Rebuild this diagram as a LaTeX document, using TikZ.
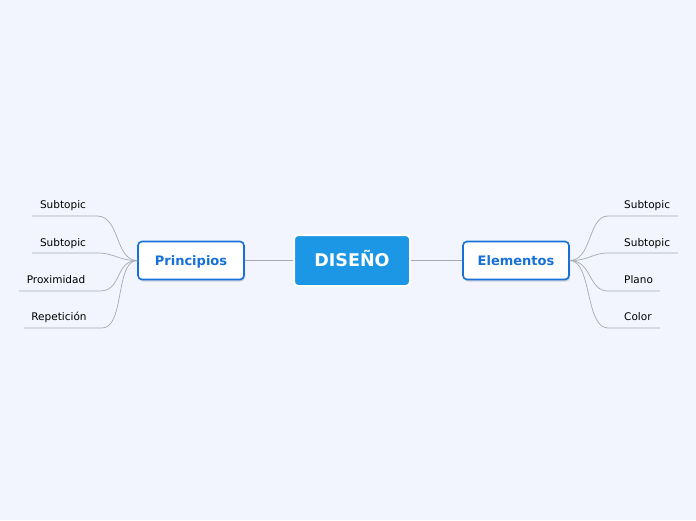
\documentclass[tikz,border=0pt]{standalone}
\usepackage{fontspec}
\setmainfont{DejaVu Sans}
\usetikzlibrary{shadows}
\definecolor{fondo}{RGB}{242,245,253}
\definecolor{azul}{RGB}{27,151,229}
\definecolor{azulborde}{RGB}{22,112,216}
\definecolor{gris}{RGB}{165,169,178}
\tikzset{
  centro/.style={draw=white,line width=2pt,fill=azul,rounded corners=4pt,minimum width=116pt,minimum height=51pt,text=white,text height=12.6pt,text depth=0pt,font=\fontsize{17.5}{20}\selectfont\bfseries},
  rama/.style={draw=azulborde,line width=1.6pt,fill=white,rounded corners=4pt,minimum width=106pt,minimum height=38pt,text=azulborde,text height=9.5pt,text depth=0pt,font=\fontsize{13}{16}\selectfont\bfseries,drop shadow={shadow xshift=1pt,shadow yshift=-2pt,opacity=0.3}},
  sub/.style={text=black,text height=7.7pt,text depth=0pt,font=\fontsize{10.5}{12}\selectfont,inner sep=0pt},
  enlace/.style={draw=gris,line width=0.7pt},
}
\begin{document}
\begin{tikzpicture}[x=1pt,y=-1pt]
\fill[fondo] (0,0) rectangle (696,520); % background
\useasboundingbox (0,0) rectangle (696,520);
\node[centro] (diseno) at (352,260.5) {DISEÑO}; % main topic
\node[rama] (principios) at (191,260.5) {Principios}; % left topic
\node[rama] (elementos) at (516,260.5) {Elementos}; % right topic
\draw[enlace,line width=1.3pt] (principios.east) -- (diseno.west); % Wiring
\draw[enlace,line width=1.3pt] (diseno.east) -- (elementos.west); % Wiring
% left subtopics
\node[sub] (ps1) at (63,204.5) {Subtopic};
\node[sub] (ps2) at (63,242.5) {Subtopic};
\node[sub] (ps3) at (56,280) {Proximidad};
\node[sub] (ps4) at (59,316.5) {Repetición};
\coordinate (pl1) at (32,216);
\coordinate (pl2) at (32,253);
\coordinate (pl3) at (19,291);
\coordinate (pl4) at (24,328);
\draw[enlace] (principios.west) .. controls (115,260.5) and (120,216) .. (97,216) -- (pl1); % Wiring
\draw[enlace] (principios.west) .. controls (118,260.5) and (115,253) .. (97,253) -- (pl2); % Wiring
\draw[enlace] (principios.west) .. controls (115,260.5) and (122,291) .. (100,291) -- (pl3); % Wiring
\draw[enlace] (principios.west) .. controls (115,260.5) and (125,328) .. (102,328) -- (pl4); % Wiring
% right subtopics
\node[sub,anchor=west] (es1) at (624,204.5) {Subtopic};
\node[sub,anchor=west] (es2) at (624,242.5) {Subtopic};
\node[sub,anchor=west] (es3) at (624,280) {Plano};
\node[sub,anchor=west] (es4) at (624,316.5) {Color};
\coordinate (el1) at (678,216);
\coordinate (el2) at (678,253);
\coordinate (el3) at (660,291);
\coordinate (el4) at (660,328);
\draw[enlace] (elementos.east) .. controls (592,260.5) and (588,216) .. (608,216) -- (el1); % Wiring
\draw[enlace] (elementos.east) .. controls (590,260.5) and (592,253) .. (608,253) -- (el2); % Wiring
\draw[enlace] (elementos.east) .. controls (592,260.5) and (588,291) .. (608,291) -- (el3); % Wiring
\draw[enlace] (elementos.east) .. controls (592,260.5) and (585,328) .. (608,328) -- (el4); % Wiring
\end{tikzpicture}
\end{document}
